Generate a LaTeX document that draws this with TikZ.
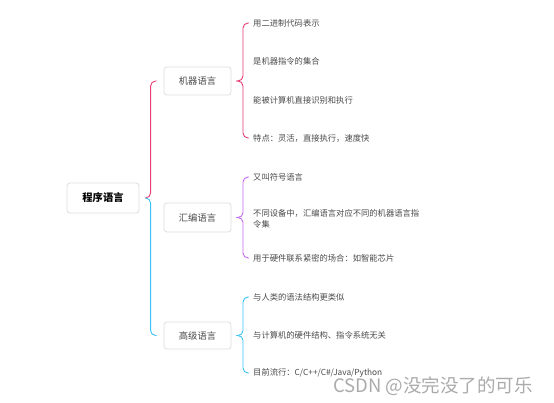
\documentclass[tikz,border=0pt]{standalone}
\usepackage{fontspec}
\setmainfont{Noto Sans CJK SC}
\definecolor{redc}{HTML}{E63E76}
\definecolor{violc}{HTML}{C76BF2}
\definecolor{bluec}{HTML}{3BC3F7}
\definecolor{boxline}{HTML}{DDDDDD}
\definecolor{itemtxt}{HTML}{4A4A4A}
\definecolor{wmark}{HTML}{ABABAB}
\tikzset{
  topic/.style={draw=boxline, line width=0.8pt, rounded corners=3pt, fill=white,
    minimum width=67pt, minimum height=28pt, inner sep=0pt,
    font=\fontsize{9.3}{11}\selectfont, text=itemtxt},
  roottopic/.style={topic, minimum width=72pt, minimum height=30pt,
    font=\fontsize{10.3}{12}\selectfont\bfseries, text=black},
  item/.style={anchor=west, inner sep=0pt, align=left,
    font=\fontsize{8.3}{11}\selectfont, text=itemtxt},
  brace/.style={line width=0.9pt, rounded corners=5pt}
}
\begin{document}
\begin{tikzpicture}[x=1pt,y=-1pt]
\useasboundingbox (0,0) rectangle (554,403);
\fill[white] (0,0) rectangle (554,403);

\node[roottopic] (root) at (103,198) {程序语言};
\node[topic] (mach) at (197.5,81) {机器语言};
\node[topic, minimum height=29pt] (asm) at (197.5,217.5) {汇编语言};
\node[topic, minimum height=27pt] (high) at (197.5,335.5) {高级语言};

% machine language items
\node[item] (m1) at (253,23) {用二进制代码表示};
\node[item] (m2) at (253,61.5) {是机器指令的集合};
\node[item] (m3) at (253,100) {能被计算机直接识别和执行};
\node[item] (m4) at (253,138) {特点：灵活，直接执行，速度快};

% assembly items
\node[item] (a1) at (253,177) {又叫符号语言};
\node[item] (a2) at (253,218.5) {不同设备中，汇编语言对应不同的机器语言指\\令集};
\node[item] (a3) at (253,258) {用于硬件联系紧密的场合：如智能芯片};

% high-level items
\node[item] (h1) at (253,297) {与人类的语法结构更类似};
\node[item] (h2) at (253,335) {与计算机的硬件结构、指令系统无关};
\node[item] (h3) at (253,373) {目前流行：C/C++/C\#/Java/Python};

% root brace
\draw[brace, redc] ([xshift=6pt]root.east) -| ([xshift=-13pt]mach.west) -- ([xshift=-7pt]mach.west);
\draw[brace, bluec] ([xshift=6pt]root.east) -| ([xshift=-13pt]high.west) -- ([xshift=-7pt]high.west);

% machine brace
\draw[brace, redc] ([xshift=5pt]mach.east) -| ([xshift=-10pt]m1.west) -- ([xshift=-4pt]m1.west);
\draw[brace, redc] ([xshift=5pt]mach.east) -| ([xshift=-10pt]m4.west) -- ([xshift=-4pt]m4.west);

% assembly brace
\draw[brace, violc] ([xshift=5pt]asm.east) -| ([xshift=-10pt]a1.west) -- ([xshift=-4pt]a1.west);
\draw[brace, violc] ([xshift=5pt]asm.east) -| ([xshift=-10pt]a3.west) -- ([xshift=-4pt]a3.west);

% high-level brace
\draw[brace, bluec] ([xshift=5pt]high.east) -| ([xshift=-10pt]h1.west) -- ([xshift=-4pt]h1.west);
\draw[brace, bluec] ([xshift=5pt]high.east) -| ([xshift=-10pt]h3.west) -- ([xshift=-4pt]h3.west);

% watermark
\node[inner sep=0pt, text=wmark, font=\fontsize{18.5}{21}\selectfont] (wm) at (433,386) {CSDN @没完没了的可乐};
\end{tikzpicture}
\end{document}
